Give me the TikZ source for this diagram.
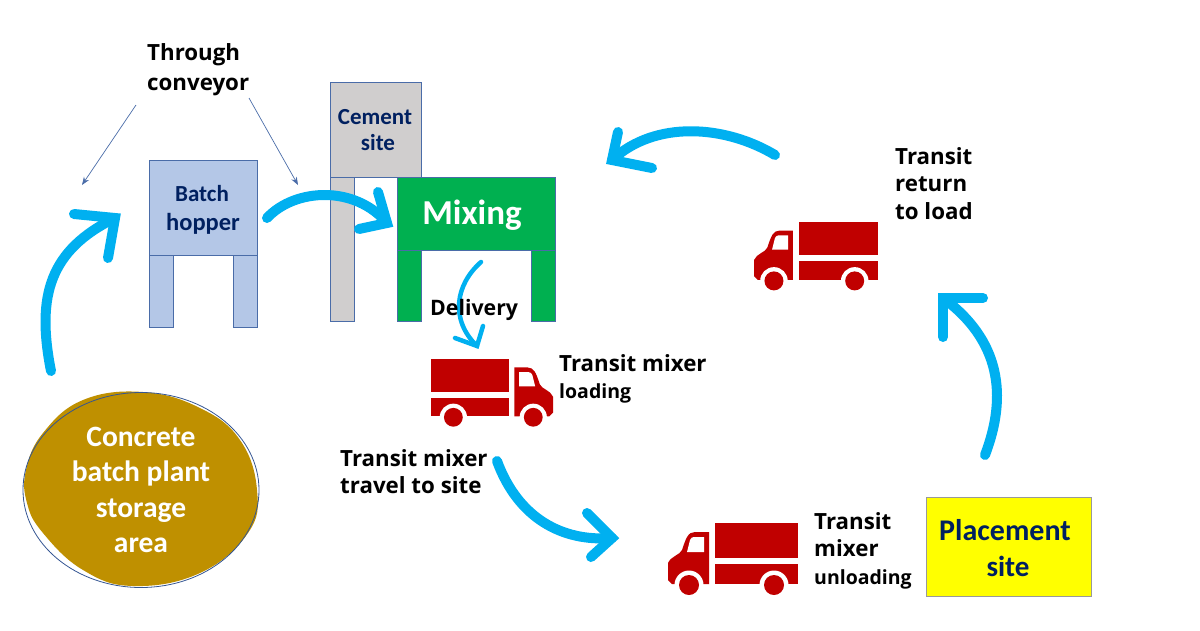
\documentclass[tikz,border=0pt]{standalone}
\usepackage{fontspec}
\setmainfont{Carlito}
\newfontfamily\handfont{Open Sans}
\usetikzlibrary{shapes.geometric,arrows.meta}
\definecolor{flow}{HTML}{00B0F0}
\definecolor{truckred}{HTML}{C00000}
\definecolor{edgeblue}{HTML}{4A6CA8}
\definecolor{navy}{HTML}{002060}
\definecolor{hopperblue}{HTML}{B4C7E7}
\definecolor{cementgray}{HTML}{D0CECE}
\definecolor{mixgreen}{HTML}{00B050}
\definecolor{storage}{HTML}{BF9000}
\definecolor{siteyellow}{HTML}{FFFF00}
\newcommand{\smallword}[1]{{\fontsize{19.5}{27.5}\selectfont #1}}
\tikzset{
  x=1pt,y=-1pt,
  truck/.pic={
    \fill[truckred] (41,9) -- (27,9) .. controls (20,9) and (18,15) .. (14,27) .. controls (12,32) and (3,33) .. (0,40)
      -- (0,57) -- (4,61) -- (41,61) -- cycle;
    \fill[white] (19,29) -- (22,17) .. controls (23,15) and (24,14) .. (26,14) -- (36,14) -- (36,29) -- cycle;
    \fill[truckred] (47,0) rectangle (130,35);
    \fill[truckred] (47,41) rectangle (130,61);
    \fill[white] (21,62) circle[radius=14.5];
    \fill[white] (106,62) circle[radius=14.5];
    \fill[truckred] (21,62) circle[radius=10];
    \fill[truckred] (106,62) circle[radius=10];
  },
  boxbase/.style={draw=edgeblue,line width=0.8pt,anchor=north west,inner sep=0pt},
  hopper/.style={boxbase,fill=hopperblue},
  cement/.style={boxbase,fill=cementgray},
  mixer/.style={boxbase,fill=mixgreen},
  flowline/.style={draw=flow,line width=10pt,line cap=round},
  flowhead/.style={draw=flow,line width=10pt,line cap=round,line join=miter},
  flowthin/.style={draw=flow,line width=4.5pt,line cap=round,line join=miter},
  note/.style={font=\handfont\bfseries\fontsize{22.3}{27.5}\selectfont,anchor=north west,inner sep=0pt,align=left},
  pointer/.style={draw=edgeblue,line width=0.7pt,-{Stealth[length=8pt,width=6pt]}},
  navylabel/.style={text=navy,font=\bfseries\fontsize{23}{23}\selectfont,inner sep=0pt},
}
\begin{document}
\begin{tikzpicture}
\useasboundingbox (0,0) rectangle (1200,630);
% storage
\fill[storage] plot[smooth cycle,tension=0.7] coordinates {(143,392) (200,408) (240,440) (257,490) (248,533) (200,573) (133,586) (83,570) (43,533) (27,503) (26,470) (43,433) (83,400)};
\node[draw=edgeblue!70!navy,line width=0.8pt,ellipse,minimum width=236pt,minimum height=195pt,inner sep=0pt] (storage) at (141,490) {};
\node[text=white,align=center,font=\bfseries\fontsize{29.5}{35.5}\selectfont] (storagetext) at (141,490) {Concrete\\batch plant\\storage\\area};
% batch hopper
\node[hopper,minimum width=108pt,minimum height=95pt] (batch) at (149,160) {};
\node[hopper,minimum width=24pt,minimum height=72pt] (batchL) at (149,255) {};
\node[hopper,minimum width=24pt,minimum height=72pt] (batchR) at (233,255) {};
\node[navylabel] (batchA) at (202,194) {Batch};
\node[navylabel,font=\bfseries\fontsize{24.5}{24.5}\selectfont] (batchB) at (203,224) {hopper};
% cement
\node[cement,minimum width=91pt,minimum height=95pt] (cement) at (330,82) {};
\node[cement,minimum width=24pt,minimum height=144pt] (cementL) at (330,177) {};
\node[navylabel] (cementA) at (375,117) {Cement};
\node[navylabel] (cementB) at (378,143) {site};
% mixing
\node[mixer,minimum width=158pt,minimum height=73pt] (mixing) at (397,177) {};
\node[mixer,minimum width=24pt,minimum height=71pt] (mixL) at (397,250) {};
\node[mixer,minimum width=24pt,minimum height=71pt] (mixR) at (531,250) {};
\node[text=white,inner sep=0pt,font=\bfseries\fontsize{35}{40}\selectfont] (mixlabel) at (472,215) {Mixing};
% placement
\node[draw=black!40,line width=0.8pt,fill=siteyellow,anchor=north west,inner sep=0pt,minimum width=165pt,minimum height=99pt] (placement) at (926,497) {};
\node[navylabel,font=\bfseries\fontsize{30}{30}\selectfont] (placeA) at (1005,530) {Placement};
\node[navylabel,font=\bfseries\fontsize{29}{29}\selectfont] (placeB) at (1008,566) {site};
% trucks
\pic at (668,523) {truck};
\pic[scale=0.95] at (754,222) {truck};
\pic[xscale=-0.94,yscale=0.94] at (553,359) {truck};
% coordinates
\coordinate (a1s) at (51,371); \coordinate (a1e) at (115,218); \coordinate (a1b) at (74,214); \coordinate (a1c) at (108,258);
\coordinate (a2s) at (267,218); \coordinate (a2e) at (387,223); \coordinate (a2b) at (378,192); \coordinate (a2c) at (359,229);
\coordinate (a3s) at (481,262); \coordinate (a3e) at (477,346); \coordinate (a3b) at (455,338); \coordinate (a3c) at (483,326);
\coordinate (a4s) at (497,461); \coordinate (a4e) at (612,538); \coordinate (a4b) at (587,513); \coordinate (a4c) at (591,557);
\coordinate (a5s) at (985,455); \coordinate (a5e) at (943,298); \coordinate (a5b) at (983,298); \coordinate (a5c) at (943,337);
\coordinate (a6s) at (775,155); \coordinate (a6e) at (612,160); \coordinate (a6b) at (618,132); \coordinate (a6c) at (652,168);
\coordinate (p1s) at (136,105); \coordinate (p1e) at (82,185);
\coordinate (p2s) at (249,98); \coordinate (p2e) at (298,185);
% flow
\draw[flowline] (a1s) .. controls (36,295) and (50,250) .. (a1e);
\draw[flowhead] (a1b) -- (a1e) -- (a1c);
\draw[flowline] (a2s) .. controls (295,188) and (355,185) .. (a2e);
\draw[flowhead] (a2b) -- (a2e) -- (a2c);
\draw[flowthin] (a3s) .. controls (455,285) and (450,320) .. (a3e);
\draw[flowthin] (a3b) -- (a3e) -- (a3c);
\draw[flowline] (a4s) .. controls (518,518) and (562,542) .. (a4e);
\draw[flowhead] (a4b) -- (a4e) -- (a4c);
\draw[flowline] (a5s) .. controls (1008,395) and (1000,340) .. (a5e);
\draw[flowhead] (a5b) -- (a5e) -- (a5c);
\draw[flowline] (a6s) .. controls (725,125) and (655,120) .. (a6e);
\draw[flowhead] (a6b) -- (a6e) -- (a6c);
\draw[pointer] (p1s) -- (p1e);
\draw[pointer] (p2s) -- (p2e);
% notes
\node[note] (through) at (147,43) {Through\\[2.5pt]conveyor};
\node[note] (delivery) at (430,299) {\fontsize{21.3}{27.5}\selectfont Delivery};
\node[note] (loading) at (559,354) {Transit mixer\\\smallword{loading}};
\node[note] (travel) at (340,449) {Transit mixer\\travel to site};
\node[note] (unloading) at (814,512) {Transit\\mixer\\\smallword{unloading}};
\node[note] (return) at (895,147) {Transit\\return\\to load};
\end{tikzpicture}
\end{document}
